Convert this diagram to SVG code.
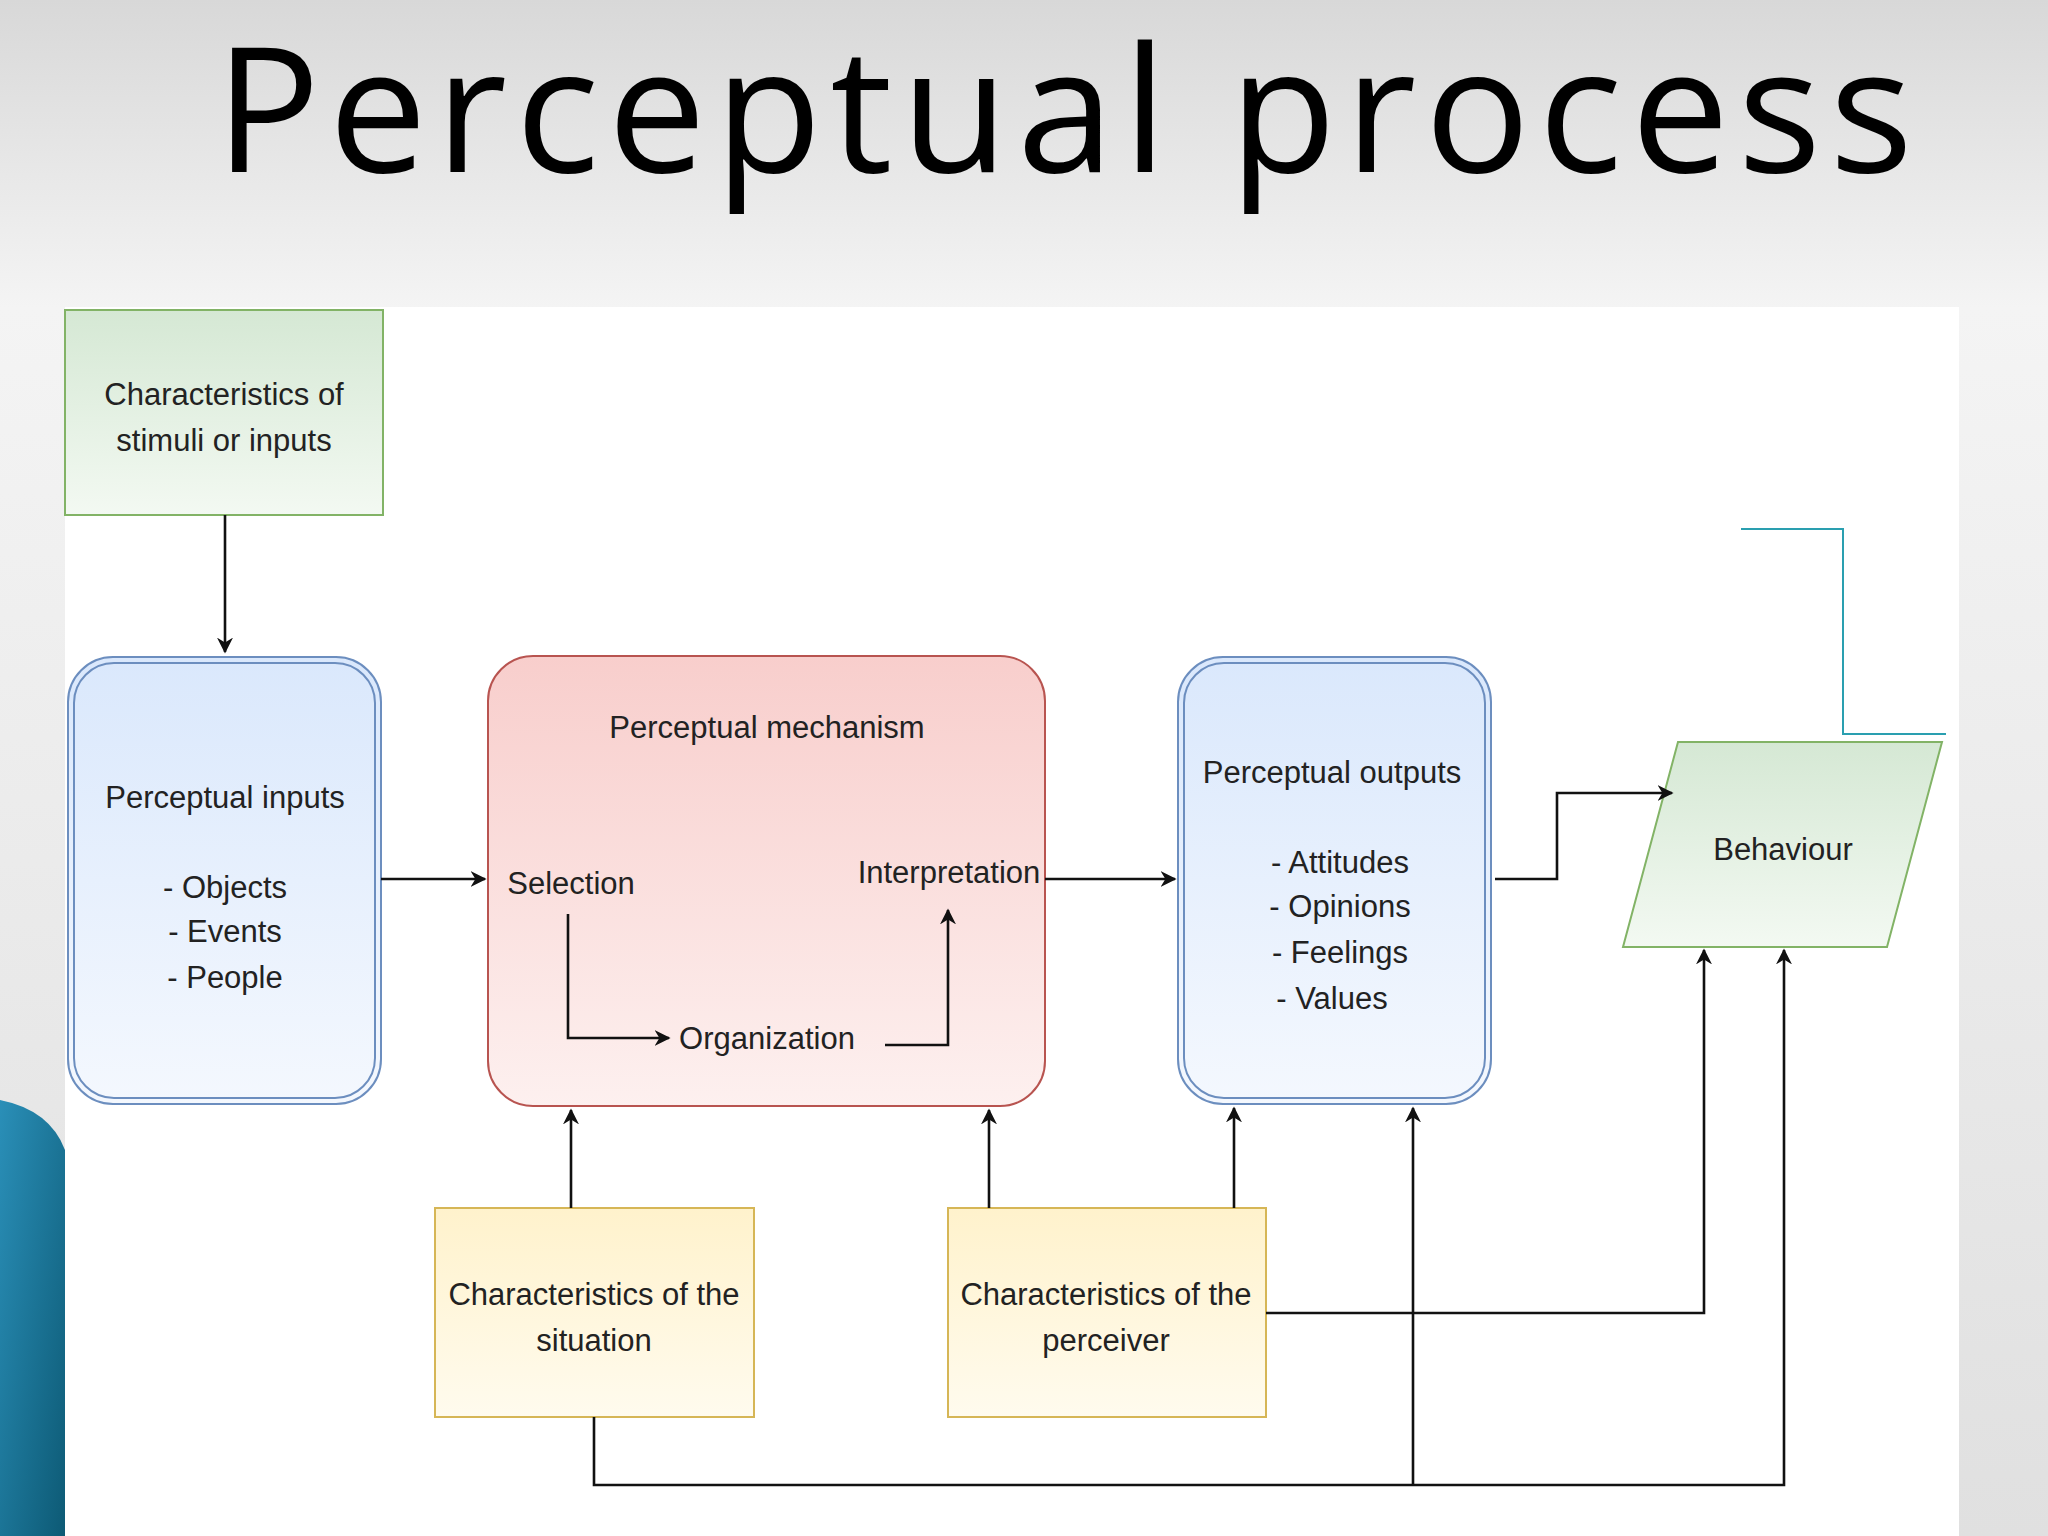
<svg xmlns="http://www.w3.org/2000/svg" width="2048" height="1536" viewBox="0 0 2048 1536">
<defs>
<linearGradient id="bg" x1="0" y1="0" x2="0" y2="1"><stop offset="0" stop-color="#d8d8d8"/><stop offset="0.2" stop-color="#f4f4f4"/><stop offset="1" stop-color="#e0e0e0"/></linearGradient>
<linearGradient id="gG" x1="0" y1="0" x2="0" y2="1"><stop offset="0" stop-color="#d5e8d4"/><stop offset="1" stop-color="#f3f9f2"/></linearGradient>
<linearGradient id="gB" x1="0" y1="0" x2="0" y2="1"><stop offset="0" stop-color="#dae8fc"/><stop offset="1" stop-color="#f4f8fe"/></linearGradient>
<linearGradient id="gR" x1="0" y1="0" x2="0" y2="1"><stop offset="0" stop-color="#f8cecc"/><stop offset="1" stop-color="#fdf0ef"/></linearGradient>
<linearGradient id="gY" x1="0" y1="0" x2="0" y2="1"><stop offset="0" stop-color="#fff2cc"/><stop offset="1" stop-color="#fffbee"/></linearGradient>
<linearGradient id="teal" x1="0" y1="0" x2="1" y2="1"><stop offset="0" stop-color="#2a8fb8"/><stop offset="1" stop-color="#0d5a75"/></linearGradient>
<marker id="ah" viewBox="0 0 10 10" refX="9" refY="5" markerWidth="16" markerHeight="16" orient="auto" markerUnits="userSpaceOnUse"><path d="M0,0 L10,5 L0,10 L3,5 z" fill="#111"/></marker>
<style>
.t{font-family:"Liberation Sans Narrow","Liberation Sans",Arial,sans-serif;font-size:31px;fill:#222;text-anchor:middle}
.c{fill:none;stroke:#111;stroke-width:2.6;marker-end:url(#ah)}
</style>
</defs>
<rect width="2048" height="1536" fill="url(#bg)"/>
<rect x="65" y="307" width="1894" height="1229" fill="#fff"/>
<path d="M0,1100 Q50,1110 65,1150 L65,1536 L0,1536 Z" fill="url(#teal)"/>
<text x="1064" y="172" font-family="'Open Sans','DejaVu Sans',sans-serif" font-size="175" fill="#000" text-anchor="middle" textLength="1698">Perceptual process</text>
<path d="M1741,529 H1843 V734 H1946" fill="none" stroke="#2a9fb0" stroke-width="2"/>
<g id="stimuli"><rect x="65" y="310" width="318" height="205" fill="url(#gG)" stroke="#82b366" stroke-width="2"/><text class="t" x="224" y="405">Characteristics of</text><text class="t" x="224" y="451">stimuli or inputs</text></g>
<g id="inputs"><rect x="68" y="657" width="313" height="447" rx="45" fill="url(#gB)" stroke="#6c8ebf" stroke-width="2"/><rect x="74" y="663" width="301" height="435" rx="40" fill="none" stroke="#6c8ebf" stroke-width="2"/><text class="t" x="225" y="808">Perceptual inputs</text><text class="t" x="225" y="898">- Objects</text><text class="t" x="225" y="942">- Events</text><text class="t" x="225" y="988">- People</text></g>
<g id="mechanism"><rect x="488" y="656" width="557" height="450" rx="45" fill="url(#gR)" stroke="#b85450" stroke-width="2"/><text class="t" x="767" y="738">Perceptual mechanism</text><text class="t" x="571" y="894">Selection</text><text class="t" x="949" y="883">Interpretation</text><text class="t" x="767" y="1049">Organization</text>
<path class="c" d="M568,914 V1038 H669"/><path class="c" d="M885,1045 H948 V910"/></g>
<g id="outputs"><rect x="1178" y="657" width="313" height="447" rx="45" fill="url(#gB)" stroke="#6c8ebf" stroke-width="2"/><rect x="1184" y="663" width="301" height="435" rx="40" fill="none" stroke="#6c8ebf" stroke-width="2"/><text class="t" x="1332" y="783">Perceptual outputs</text><text class="t" x="1340" y="873">- Attitudes</text><text class="t" x="1340" y="917">- Opinions</text><text class="t" x="1340" y="963">- Feelings</text><text class="t" x="1332" y="1009">- Values</text></g>
<g id="behaviour"><polygon points="1678,742 1942,742 1887,947 1623,947" fill="url(#gG)" stroke="#82b366" stroke-width="2"/><text class="t" x="1783" y="860">Behaviour</text></g>
<g id="situation"><rect x="435" y="1208" width="319" height="209" fill="url(#gY)" stroke="#d6b656" stroke-width="2"/><text class="t" x="594" y="1305">Characteristics of the</text><text class="t" x="594" y="1351">situation</text></g>
<g id="perceiver"><rect x="948" y="1208" width="318" height="209" fill="url(#gY)" stroke="#d6b656" stroke-width="2"/><text class="t" x="1106" y="1305">Characteristics of the</text><text class="t" x="1106" y="1351">perceiver</text></g>
<g id="connectors">
<path class="c" d="M225,515 V652"/>
<path class="c" d="M381,879 H485"/>
<path class="c" d="M1045,879 H1175"/>
<path class="c" d="M1495,879 H1557 V793 H1672"/>
<path class="c" d="M571,1208 V1110"/>
<path class="c" d="M989,1208 V1110"/>
<path class="c" d="M1234,1208 V1108"/>
<path class="c" d="M1266,1313 H1704 V950"/>
<path class="c" d="M594,1417 V1485 H1784 V950"/>
<path class="c" d="M1413,1485 V1108"/>
</g>
</svg>
